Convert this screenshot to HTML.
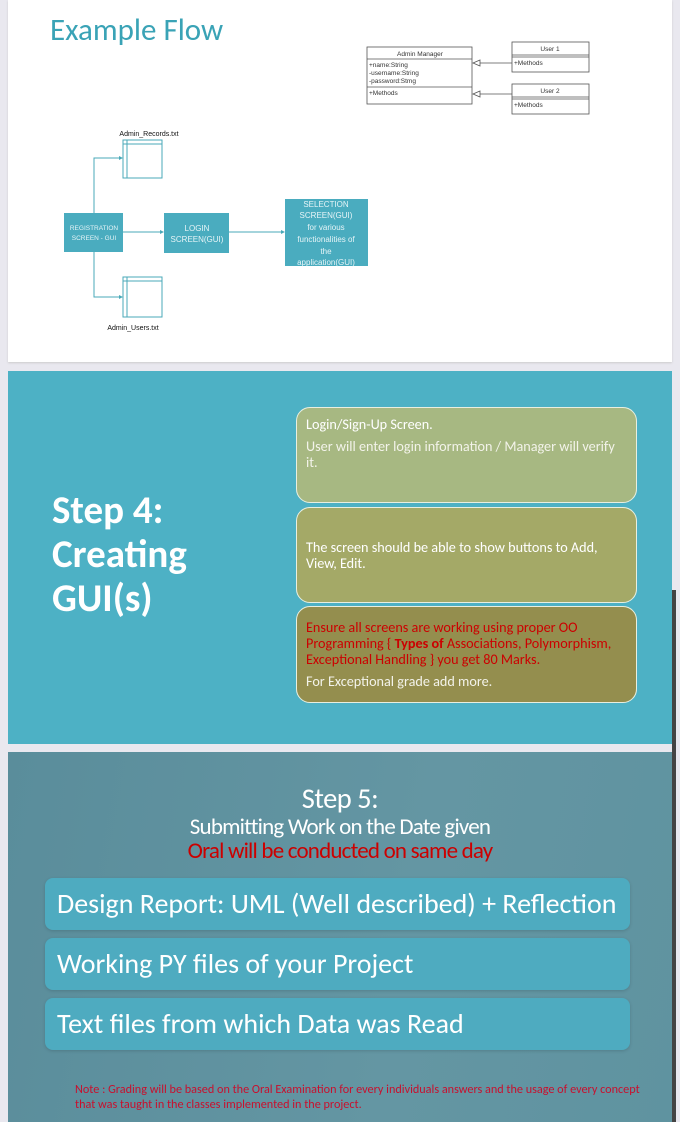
<!DOCTYPE html>
<html><head><meta charset="utf-8"><style>
*{margin:0;padding:0;box-sizing:border-box}
body{width:680px;height:1122px;background:#e9e8ef;position:relative;overflow:hidden;font-family:"Liberation Sans",sans-serif}
.a{position:absolute}
.c{font-family:Carlito,"Liberation Sans",sans-serif}
.box{position:absolute;border:1.5px solid #e8efe0;border-radius:14px;padding:8px 9px;font-size:14.2px;line-height:16px;color:#f3f3ea}
.bb{position:absolute;left:45px;width:585px;height:52px;border-radius:8px;background:#4eabc0;color:#fff;font-size:28px;padding-left:12px;line-height:52px;box-shadow:0 1px 3px rgba(0,0,0,.15)}
</style></head><body>
<div class="a" style="left:8px;top:0;width:664px;height:362px;background:#fff;box-shadow:0 1px 2px #ccc"></div>
<div class="a c" style="left:50px;top:11px;font-size:31px;color:#3aa3b6">Example Flow</div>
<svg class="a" style="left:0;top:0" width="680" height="362">
<g fill="none" stroke="#555" stroke-width="0.8">
<rect x="367" y="47" width="105" height="57"/><line x1="367" y1="59" x2="472" y2="59"/><line x1="367" y1="87" x2="472" y2="87"/>
<rect x="512" y="42" width="77" height="30"/><line x1="512" y1="55" x2="589" y2="55"/><line x1="512" y1="57" x2="589" y2="57"/>
<rect x="512" y="84" width="77" height="30"/><line x1="512" y1="97" x2="589" y2="97"/><line x1="512" y1="99" x2="589" y2="99"/>
<line x1="480" y1="63" x2="512" y2="63"/><polygon points="473,63 480,60 480,66"/>
<line x1="480" y1="94" x2="512" y2="94"/><polygon points="473,94 480,91 480,97"/>
</g>
<g font-size="6.5" fill="#333" font-family="Liberation Sans">
<text x="420" y="56" text-anchor="middle">Admin Manager</text>
<text x="369" y="67">+name:String</text><text x="369" y="75">-username:String</text><text x="369" y="83">-password:Stmg</text>
<text x="369" y="95">+Methods</text>
<text x="550" y="51" text-anchor="middle">User 1</text><text x="514" y="65">+Methods</text>
<text x="550" y="93" text-anchor="middle">User 2</text><text x="514" y="107">+Methods</text>
</g>
<g fill="none" stroke="#4aa9b8" stroke-width="1">
<rect x="123" y="140" width="39" height="38"/><line x1="127" y1="140" x2="127" y2="178"/><line x1="123" y1="144" x2="162" y2="144"/>
<rect x="123" y="277" width="39" height="40"/><line x1="127" y1="277" x2="127" y2="317"/><line x1="123" y1="281" x2="162" y2="281"/>
<polyline points="94,213 94,158 121,158"/><polyline points="94,252 94,297 121,297"/>
<line x1="123" y1="232" x2="162" y2="232"/><line x1="229" y1="232" x2="283" y2="232"/>
</g>
<g fill="#4aa9b8"><polygon points="123,158 119,156 119,160"/><polygon points="123,297 119,295 119,299"/><polygon points="164,232 160,230 160,234"/><polygon points="285,232 281,230 281,234"/></g>
<rect x="64" y="213" width="59" height="39" fill="#4aacbf"/>
<rect x="164" y="213" width="65" height="40" fill="#4aacbf"/>
<rect x="285" y="199" width="83" height="67" fill="#4aacbf"/>
<g fill="#e6f4f7" font-size="6.5" text-anchor="middle" font-family="Liberation Sans">
<text x="94" y="230">REGISTRATION</text><text x="94" y="240">SCREEN - GUI</text>
</g>
<g fill="#e6f4f7" font-size="8" text-anchor="middle" font-family="Liberation Sans">
<text x="197" y="231">LOGIN</text><text x="197" y="242">SCREEN(GUI)</text>
<text x="326" y="207">SELECTION</text><text x="326" y="218">SCREEN(GUI)</text><text x="326" y="230">for various</text><text x="326" y="242">functionalities of</text><text x="326" y="254">the</text><text x="326" y="265">application(GUI)</text>
</g>
<g fill="#111" font-size="7" text-anchor="middle" font-family="Liberation Sans">
<text x="149" y="136">Admin_Records.txt</text><text x="133" y="330">Admin_Users.txt</text>
</g>
</svg>
<div class="a" style="left:8px;top:371px;width:664px;height:373px;background:#4db1c5"></div>
<div class="a c" style="left:52px;top:489px;font-size:39px;line-height:44px;font-weight:bold;color:#fff">Step 4:<br>Creating<br>GUI(s)</div>
<div class="box c" style="left:296px;top:407px;width:341px;height:96px;background:#a7b882"><div style="color:#fff;margin-bottom:6px">Login/Sign-Up Screen.</div>User will enter login information / Manager will verify it.</div>
<div class="box c" style="left:296px;top:507px;width:341px;height:96px;background:#a4a967;color:#fff;padding-top:31px">The screen should be able to show buttons to Add, View, Edit.</div>
<div class="box c" style="left:296px;top:606px;width:341px;height:97px;background:#948e4e;padding-top:12px"><div style="color:#c00;margin-bottom:6px">Ensure all screens are working using proper OO Programming { <b>Types of</b> Associations, Polymorphism, Exceptional Handling } you get 80 Marks.</div>For Exceptional grade add more.</div>
<div class="a" style="left:672px;top:590px;width:4px;height:532px;background:#444"></div>
<div class="a" style="left:8px;top:752px;width:664px;height:370px;background:linear-gradient(100deg,#5a8d9b,#6496a3 60%,#5f93a0)"></div>
<div class="a c" style="left:8px;top:783px;width:664px;text-align:center;color:#fff;font-size:28.5px;line-height:32px;letter-spacing:-0.5px">Step 5:</div>
<div class="a c" style="left:8px;top:815px;width:664px;text-align:center;color:#fff;font-size:23px;line-height:24px;letter-spacing:-0.8px">Submitting Work on the Date given<br><span style="color:#c00">Oral will be conducted on same day</span></div>
<div class="bb c" style="top:878px">Design Report: UML (Well described) + Reflection</div>
<div class="bb c" style="top:938px">Working PY files of your Project</div>
<div class="bb c" style="top:998px">Text files from which Data was Read</div>
<div class="a c" style="left:75px;top:1082px;width:570px;font-size:12.2px;line-height:15px;color:#c8102e">Note : Grading will be based on the Oral Examination for every individuals answers and the usage of every concept that was taught in the classes implemented in the project.</div>
</body></html>
